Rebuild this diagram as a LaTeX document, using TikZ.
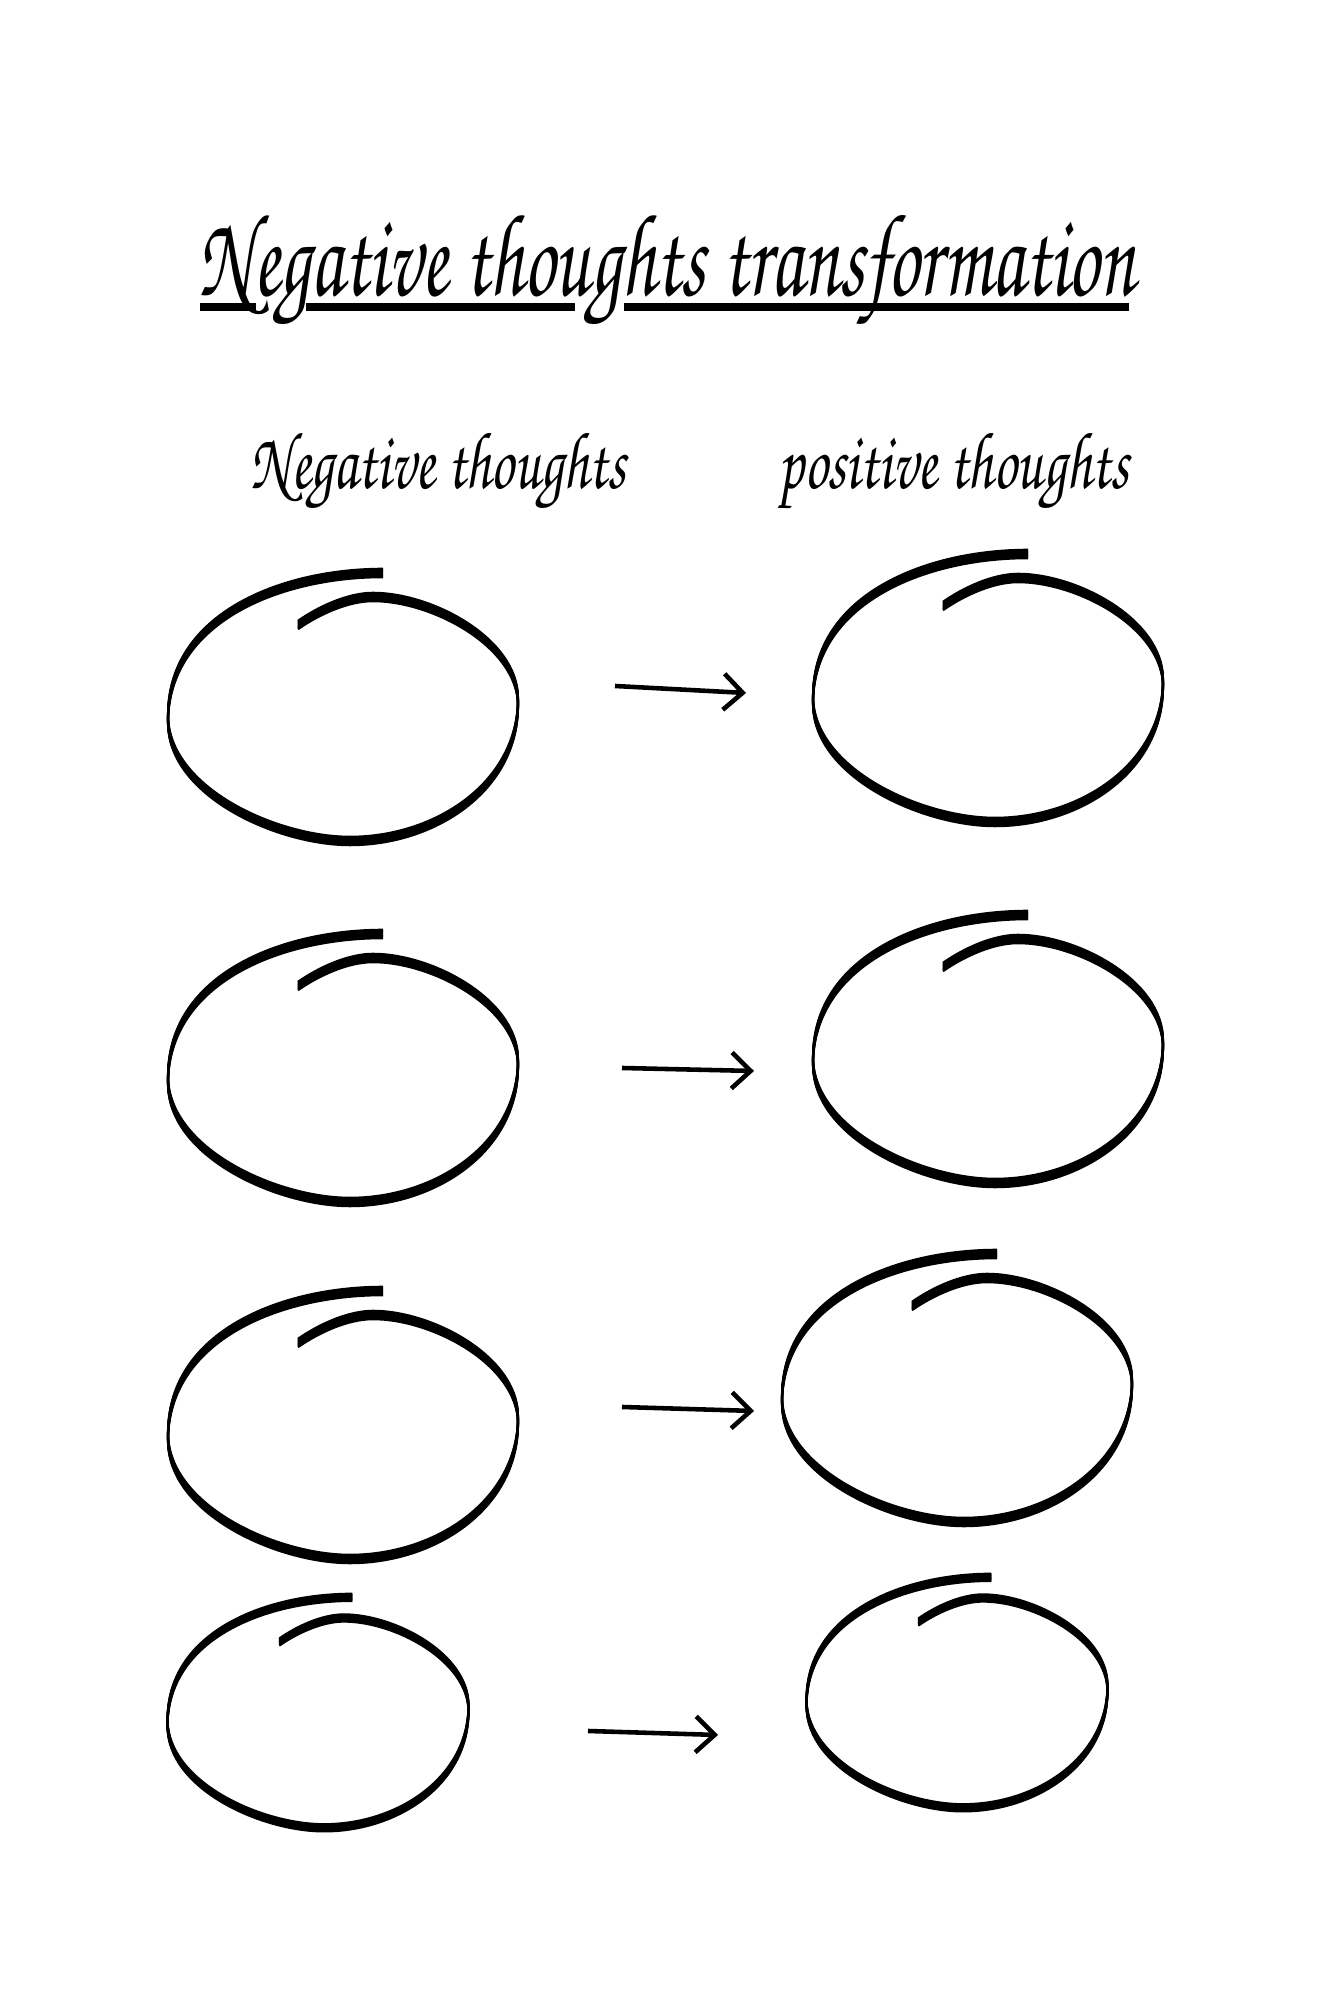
\documentclass[tikz,border=0pt]{standalone}
\usepackage{graphicx}
\usepackage{fontspec}
\newfontfamily\hand{texgyrechorus-mediumitalic.otf}
\usepackage{tikz}
\usetikzlibrary{arrows.meta}

\tikzset{
  pics/scribble/.style={code={
    % flat vertical nib: several thin strokes shifted up/down
    \foreach \d in {-1.2,-0.9,...,1.25} {
      \draw[line width=0.6pt, yshift=\d pt] (0.40,1.31) to[out=180,in=90] (-1.75,-0.15)
        to[out=-90,in=180,looseness=0.85] (0.07,-1.37) to[out=0,in=-90] (1.75,0.02)
        to[out=90,in=0,looseness=0.85] (0.30,1.07) to[out=180,in=35,looseness=0.8] (-0.45,0.79);
    }
  }}
}

\begin{document}
\begin{tikzpicture}[
    arr/.style={-{Straight Barb[length=1.9mm,width=3.6mm]}, line width=1.3pt},
    head/.style={font=\hand, anchor=base west, inner sep=0pt},
]
\fill[white] (0,0) rectangle (13.24,20);
\useasboundingbox (0,0) rectangle (13.24,20);
% === Title ===
\node[head] (title) at (1.98,17.04) {\resizebox{9.36cm}{0.8cm}{Negative thoughts transformation}};
\foreach \a/\b in {2.00/2.56, 3.06/5.75, 6.24/11.29} {
    \draw[line width=0.083cm] (\a,16.93) -- (\b,16.93);
}
% === Column heads ===
\node[head] (hneg) at (2.50,15.11) {\resizebox{3.75cm}{0.55cm}{Negative thoughts}};
\node[head] (hpos) at (7.78,15.11) {\resizebox{3.50cm}{0.55cm}{positive thoughts}};
% === Loops, left and right ===
\foreach \i/\xl/\yl/\xr/\yr/\s in {1/3.43/12.96/9.88/13.15/1, 2/3.43/9.35/9.88/9.54/1, 3/3.43/5.78/9.57/6.15/1, 4/3.18/2.90/9.57/3.10/0.86} {
    \pic[scale=\s] (neg\i) at (\xl,\yl) {scribble};
    \pic[scale=\s] (pos\i) at (\xr,\yr) {scribble};
}
% === Arrows ===
\foreach \i/\xa/\ya/\xb/\yb in {1/6.15/13.14/7.46/13.07, 2/6.22/9.32/7.54/9.29, 3/6.22/5.93/7.54/5.89, 4/5.88/2.69/7.18/2.65} {
    \coordinate (from\i) at (\xa,\ya);
    \coordinate (to\i) at (\xb,\yb);
    \draw[arr] (from\i) -- (to\i);
}
\end{tikzpicture}
\end{document}
